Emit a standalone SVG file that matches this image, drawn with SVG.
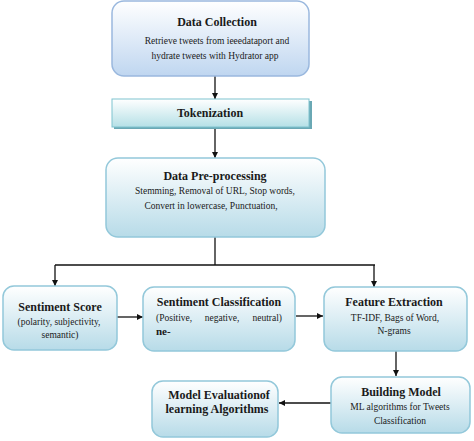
<svg xmlns="http://www.w3.org/2000/svg" width="474" height="441" viewBox="0 0 474 441">
<defs>
<linearGradient id="gBlue" x1="0" y1="0" x2="0" y2="1">
<stop offset="0" stop-color="#ffffff"/>
<stop offset="1" stop-color="#b7dbe8"/>
</linearGradient>
<linearGradient id="gDC" x1="0" y1="0" x2="0" y2="1">
<stop offset="0" stop-color="#ffffff"/>
<stop offset="1" stop-color="#bfd6f0"/>
</linearGradient>
<linearGradient id="gTok" x1="0" y1="0" x2="0" y2="1">
<stop offset="0" stop-color="#ffffff"/>
<stop offset="1" stop-color="#b5e0e6"/>
</linearGradient>
<marker id="arr" viewBox="0 0 10 10" refX="10" refY="5" markerWidth="6" markerHeight="6" markerUnits="userSpaceOnUse" orient="auto">
<path d="M0,0 L10,5 L0,10 z" fill="#111"/>
</marker>
<style>
.box{fill:url(#gBlue);stroke:#93c8da;stroke-width:1.5}
text{font-family:'Liberation Serif','Times New Roman','DejaVu Serif',serif;fill:#1a1a1a;text-anchor:middle}
.t{font-weight:bold;font-size:12px}
.b{font-size:9.5px}
.ln{stroke:#111;stroke-width:1.3;fill:none}
</style>
</defs>
<rect width="474" height="441" fill="#ffffff"/>

<g id="connectors">
<line class="ln" x1="215" y1="76" x2="215" y2="99" marker-end="url(#arr)"/>
<line class="ln" x1="215" y1="127" x2="215" y2="158" marker-end="url(#arr)"/>
<polyline class="ln" points="215,237 215,265"/>
<line class="ln" x1="55" y1="265" x2="375" y2="265"/>
<line class="ln" x1="55" y1="265" x2="55" y2="286" marker-end="url(#arr)"/>
<line class="ln" x1="374" y1="265" x2="374" y2="287" marker-end="url(#arr)"/>
<line class="ln" x1="117" y1="317" x2="143" y2="317" marker-end="url(#arr)"/>
<line class="ln" x1="296" y1="316" x2="323" y2="316" marker-end="url(#arr)"/>
<line class="ln" x1="396" y1="351" x2="396" y2="376" marker-end="url(#arr)"/>
<line class="ln" x1="331" y1="403" x2="279" y2="403" marker-end="url(#arr)"/>
</g>

<g id="data-collection">
<rect x="112" y="1" width="197" height="75" rx="12" fill="url(#gDC)" stroke="#9ab8de" stroke-width="1.5"/>
<text class="t" x="217" y="26">Data Collection</text>
<text class="b" x="217" y="44">Retrieve tweets from ieeedataport and</text>
<text class="b" x="215" y="59">hydrate tweets with Hydrator app</text>
</g>

<g id="tokenization">
<rect x="114" y="101" width="198" height="28" fill="#6aa8b4"/>
<rect x="112" y="99" width="197" height="28" fill="url(#gTok)" stroke="#7fc3cf" stroke-width="1"/>
<text class="t" x="210" y="117">Tokenization</text>
</g>

<g id="data-preprocessing">
<rect x="106" y="158" width="219" height="79" rx="12" class="box"/>
<text class="t" x="215" y="180">Data Pre-processing</text>
<text class="b" x="215" y="194">Stemming, Removal of URL, Stop words,</text>
<text class="b" x="211" y="209">Convert in lowercase, Punctuation,</text>
</g>

<g id="sentiment-score">
<rect x="3" y="286" width="114" height="64" rx="11" class="box"/>
<text class="t" x="60" y="311">Sentiment Score</text>
<text class="b" x="59" y="325">(polarity, subjectivity,</text>
<text class="b" x="60" y="338">semantic)</text>
</g>

<g id="sentiment-classification">
<rect x="143" y="287" width="152" height="64" rx="11" class="box"/>
<text class="t" x="219" y="306">Sentiment Classification</text>
<text class="b" x="156" y="321" style="text-anchor:start">(Positive,</text>
<text class="b" x="222" y="321">negative,</text>
<text class="b" x="282" y="321" style="text-anchor:end">neutral)</text>
<text class="t" x="156" y="335" style="text-anchor:start;font-size:11px">ne-</text>
</g>

<g id="feature-extraction">
<rect x="324" y="287" width="143" height="64" rx="11" class="box"/>
<text class="t" x="394" y="306">Feature Extraction</text>
<text class="b" x="395" y="321">TF-IDF, Bags of Word,</text>
<text class="b" x="394" y="334">N-grams</text>
</g>

<g id="building-model">
<rect x="331" y="377" width="139" height="56" rx="11" class="box"/>
<text class="t" x="401" y="396">Building Model</text>
<text class="b" x="400" y="410">ML algorithms for Tweets</text>
<text class="b" x="400" y="424">Classification</text>
</g>

<g id="model-evaluation">
<rect x="152" y="381" width="126" height="56" rx="11" class="box"/>
<text class="t" x="219" y="399">Model Evaluationof</text>
<text class="t" x="217" y="413">learning Algorithms</text>
</g>
</svg>
